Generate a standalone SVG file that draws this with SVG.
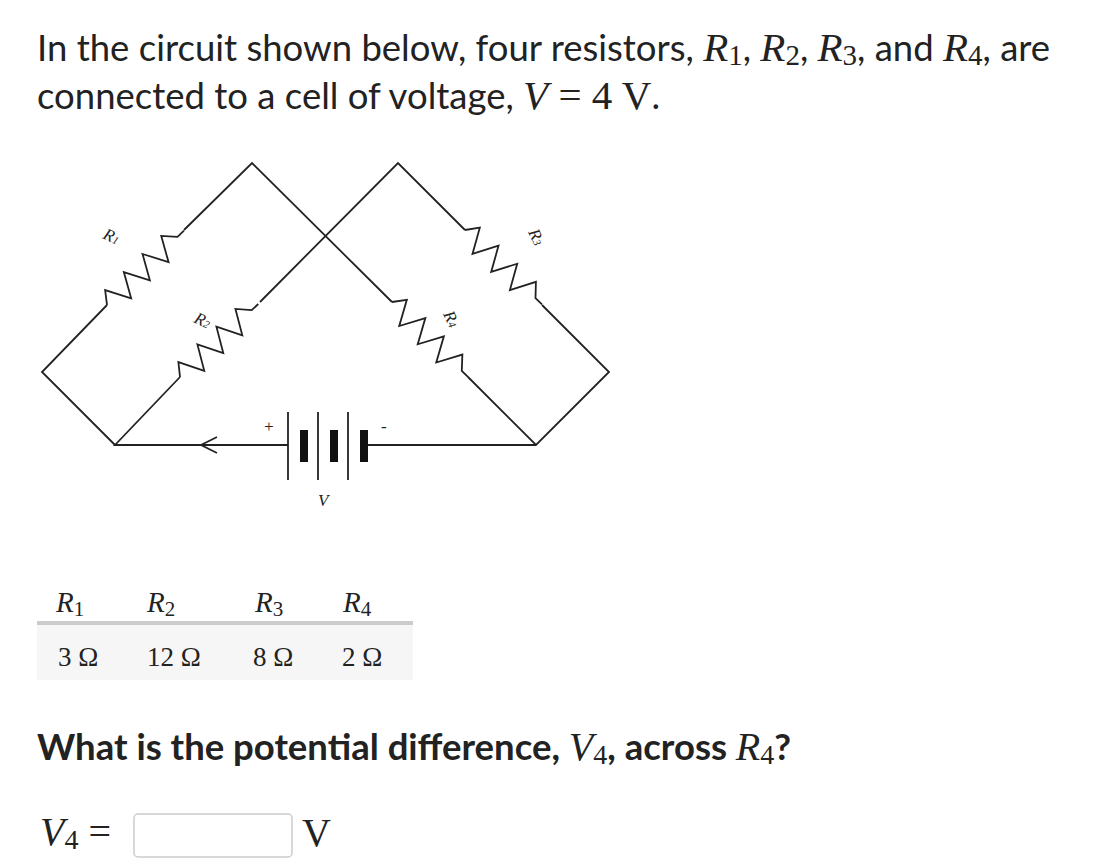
<svg xmlns="http://www.w3.org/2000/svg" width="1108" height="868" viewBox="0 0 1108 868">
<style>
.t{font-family:Lato,"Open Sans",sans-serif;font-size:36.5px;fill:#222}
.m{font-family:"Liberation Serif","DejaVu Serif",serif;font-style:italic;fill:#222}
.r{font-family:"Liberation Serif","DejaVu Serif",serif;font-style:normal;fill:#222}
.w{fill:none;stroke:#222;stroke-width:1.8;stroke-linejoin:miter}
.lb{font-family:"Liberation Serif",serif;font-style:italic;font-size:17px;fill:#222}
</style>
<defs>
<polyline id="zz" class="w" points="0,0 9,-12 22,12 35,-12 48,12 61,-12 74,12 87,-12 98,0 107,0"/>
</defs>
<rect width="1108" height="868" fill="#fff"/>
<text class="t" x="37" y="61">In the circuit shown below, four resistors, <tspan class="m" font-size="41">R</tspan><tspan class="r" font-size="29" dy="4">1</tspan><tspan dy="-4">, </tspan><tspan class="m" font-size="41">R</tspan><tspan class="r" font-size="29" dy="4">2</tspan><tspan dy="-4">, </tspan><tspan class="m" font-size="41">R</tspan><tspan class="r" font-size="29" dy="4">3</tspan><tspan dy="-4">, and </tspan><tspan class="m" font-size="41">R</tspan><tspan class="r" font-size="29" dy="4">4</tspan><tspan dy="-4">, are</tspan></text>
<text class="t" x="37" y="109">connected to a cell of voltage, <tspan class="m" font-size="41">V</tspan><tspan class="r" font-size="41"> = 4 V</tspan>.</text>
<g id="connectors">
<polyline class="w" points="107,305 42,372 115,445"/>
<polyline class="w" points="184,230 252,163 392,302"/>
<polyline class="w" points="180,377 115,445 288,445"/>
<polyline class="w" points="260,302 398,163 465,230"/>
<polyline class="w" points="468,377 536,445 609,372 542,305"/>
<polyline class="w" points="368,445 536,445"/>
<polyline class="w" points="217,437 201,445 217,453"/>
</g>
<g id="R1"><use href="#zz" transform="translate(107,305) rotate(-44)"/><text class="lb" transform="translate(102,238) rotate(25)">R<tspan font-size="11">1</tspan></text></g>
<g id="R2"><use href="#zz" transform="translate(180,377) rotate(-43)"/><text class="lb" transform="translate(193,322) rotate(25)">R<tspan font-size="11">2</tspan></text></g>
<g id="R3"><use href="#zz" transform="translate(465,230) rotate(44)"/><text class="lb" transform="translate(528,232) rotate(65)">R<tspan font-size="11">3</tspan></text></g>
<g id="R4"><use href="#zz" transform="translate(392,302) rotate(44.6)"/><text class="lb" transform="translate(443,314) rotate(65)">R<tspan font-size="11">4</tspan></text></g>
<g id="battery">
<line class="w" x1="288" y1="412" x2="288" y2="480"/>
<line class="w" x1="318" y1="412" x2="318" y2="480"/>
<line class="w" x1="348" y1="412" x2="348" y2="480"/>
<rect x="300" y="430" width="8" height="32" fill="#111"/>
<rect x="330" y="430" width="8" height="32" fill="#111"/>
<rect x="360" y="430" width="8" height="32" fill="#111"/>
<text class="lb" x="263" y="432" font-size="15">+</text>
<text class="lb" x="381" y="432" font-size="15">-</text>
<text class="lb" x="318" y="506" font-size="16">V</text>
</g>
<g id="table">
<rect x="37" y="624" width="376" height="56" fill="#f6f6f6"/>
<line x1="37" y1="623" x2="413" y2="623" stroke="#ccc" stroke-width="4"/>
<g class="m" font-size="29"><text x="56" y="612">R<tspan class="r" font-size="21" dy="4">1</tspan></text><text x="147" y="612">R<tspan class="r" font-size="21" dy="4">2</tspan></text><text x="255" y="612">R<tspan class="r" font-size="21" dy="4">3</tspan></text><text x="343" y="612">R<tspan class="r" font-size="21" dy="4">4</tspan></text></g>
<g class="r" font-size="27"><text x="58" y="666">3 Ω</text><text x="147" y="666">12 Ω</text><text x="253" y="666">8 Ω</text><text x="342" y="666">2 Ω</text></g>
</g>
<text class="t" x="37" y="760" font-weight="bold">What is the potential difference, <tspan class="m" font-weight="normal" font-size="40">V</tspan><tspan class="r" font-weight="normal" font-size="28" dy="4">4</tspan><tspan dy="-4">, across </tspan><tspan class="m" font-weight="normal" font-size="40">R</tspan><tspan class="r" font-weight="normal" font-size="28" dy="4">4</tspan><tspan dy="-4">?</tspan></text>
<text class="m" x="40" y="845" font-size="40">V<tspan class="r" font-size="28" dy="4">4</tspan><tspan class="r" font-size="40" dy="-4"> =</tspan></text>
<rect x="134" y="814" width="158" height="43" rx="4" fill="#fff" stroke="#ccc" stroke-width="1.5"/>
<text class="r" x="302" y="846" font-size="40">V</text>
</svg>
